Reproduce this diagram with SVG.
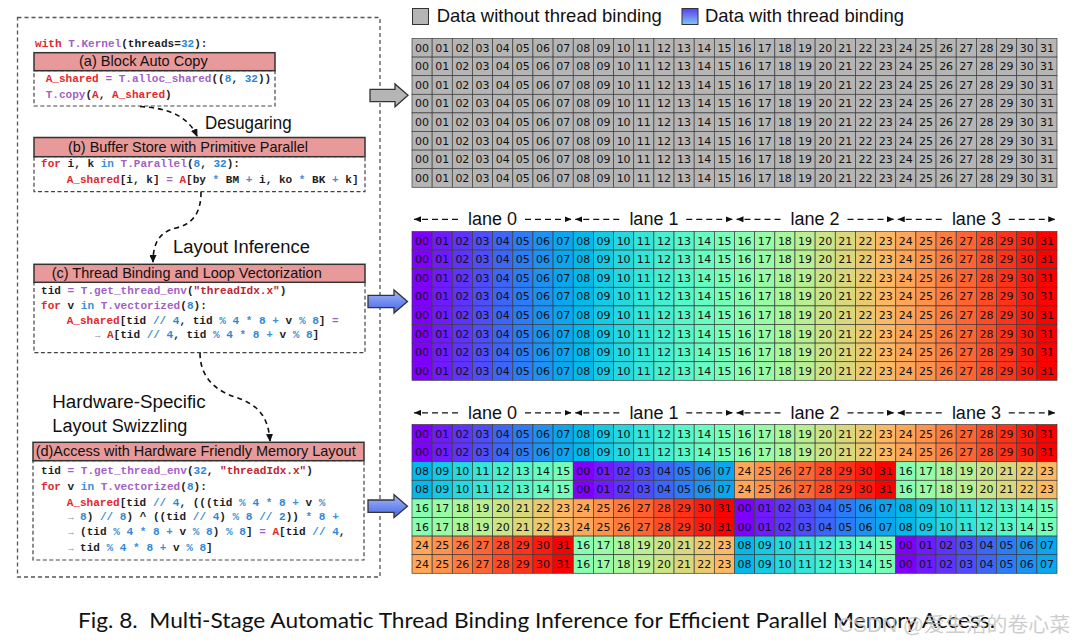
<svg xmlns="http://www.w3.org/2000/svg" width="1075" height="642" viewBox="0 0 1075 642">
<style>
.ct{font-family:"DejaVu Sans",sans-serif;font-size:11px;text-anchor:middle;fill:#111}
.cr rect{stroke:#3c3c3c;stroke-width:0.7}
.gg rect{fill:#b5b5b5;stroke:#3c3c3c;stroke-width:0.7}
.code{font-family:"Liberation Mono","DejaVu Sans Mono",monospace;font-size:11.05px;font-weight:bold;fill:#1e1e1e}
.k{fill:#e3262b}
.a{fill:#e3262b}
.f{fill:#a35fc4}
.e{fill:#a35fc4}
.n{fill:#2e86d6}
.o{fill:#3d8fd6}
.s{fill:#c0242e}
.ar{fill:#8a8a8a;font-weight:normal;font-size:9px}
.hdr{fill:#e8999a;stroke:#333;stroke-width:1.5}
.dbox{fill:none;stroke:#444;stroke-width:1.2;stroke-dasharray:4 2.5}
.ht{font-family:"Liberation Sans",Arial,sans-serif;font-size:14.5px;fill:#111}
.lbl{font-family:"Liberation Sans",Arial,sans-serif;font-size:18px;fill:#111}
.lane{font-family:"Liberation Sans",Arial,sans-serif;font-size:18px;fill:#111;text-anchor:middle}
.ll{stroke:#111;stroke-width:1.2;stroke-dasharray:6 4;fill:none}
.conn{fill:none;stroke:#111;stroke-width:1.6;stroke-dasharray:5 4}
.blk{stroke:#333;stroke-width:1.3}
</style>
<defs>
<marker id="la" viewBox="0 0 7 6" refX="7" refY="3" markerWidth="7" markerHeight="6" markerUnits="userSpaceOnUse" orient="auto"><path d="M0,0 L7,3 L0,6 z" fill="#111"/></marker>
<marker id="ca" viewBox="0 0 8 7" refX="7" refY="3.5" markerWidth="8" markerHeight="7" markerUnits="userSpaceOnUse" orient="auto"><path d="M0,0 L8,3.5 L0,7 z" fill="#111"/></marker>
<linearGradient id="blueg" x1="0" y1="0" x2="0" y2="1"><stop offset="0" stop-color="#a4b8fa"/><stop offset="1" stop-color="#4464e4"/></linearGradient>
<linearGradient id="legg" x1="0" y1="0" x2="0" y2="1"><stop offset="0" stop-color="#5a3cf2"/><stop offset="1" stop-color="#7cc8f2"/></linearGradient>
<g id="t0" class="ct"><text x="10.08" y="13.2">00</text><text x="30.23" y="13.2">01</text><text x="50.39" y="13.2">02</text><text x="70.55" y="13.2">03</text><text x="90.7" y="13.2">04</text><text x="110.86" y="13.2">05</text><text x="131.02" y="13.2">06</text><text x="151.17" y="13.2">07</text></g>
<g id="t1" class="ct"><text x="10.08" y="13.2">08</text><text x="30.23" y="13.2">09</text><text x="50.39" y="13.2">10</text><text x="70.55" y="13.2">11</text><text x="90.7" y="13.2">12</text><text x="110.86" y="13.2">13</text><text x="131.02" y="13.2">14</text><text x="151.17" y="13.2">15</text></g>
<g id="t2" class="ct"><text x="10.08" y="13.2">16</text><text x="30.23" y="13.2">17</text><text x="50.39" y="13.2">18</text><text x="70.55" y="13.2">19</text><text x="90.7" y="13.2">20</text><text x="110.86" y="13.2">21</text><text x="131.02" y="13.2">22</text><text x="151.17" y="13.2">23</text></g>
<g id="t3" class="ct"><text x="10.08" y="13.2">24</text><text x="30.23" y="13.2">25</text><text x="50.39" y="13.2">26</text><text x="70.55" y="13.2">27</text><text x="90.7" y="13.2">28</text><text x="110.86" y="13.2">29</text><text x="131.02" y="13.2">30</text><text x="151.17" y="13.2">31</text></g>
<g id="gg" class="gg"><rect x="0" width="20.16" height="18.6"/><rect x="20.16" width="20.16" height="18.6"/><rect x="40.31" width="20.16" height="18.6"/><rect x="60.47" width="20.16" height="18.6"/><rect x="80.63" width="20.16" height="18.6"/><rect x="100.78" width="20.16" height="18.6"/><rect x="120.94" width="20.16" height="18.6"/><rect x="141.09" width="20.16" height="18.6"/></g>
<g id="c0" class="cr"><rect x="0" width="20.16" height="18.6" fill="#8000ff"/><rect x="20.16" width="20.16" height="18.6" fill="#6f1aff"/><rect x="40.31" width="20.16" height="18.6" fill="#5f33fe"/><rect x="60.47" width="20.16" height="18.6" fill="#4e4cfc"/><rect x="80.63" width="20.16" height="18.6" fill="#3e65fa"/><rect x="100.78" width="20.16" height="18.6" fill="#2d7cf7"/><rect x="120.94" width="20.16" height="18.6" fill="#1d92f3"/><rect x="141.09" width="20.16" height="18.6" fill="#0ca6ef"/></g>
<g id="c1" class="cr"><rect x="0" width="20.16" height="18.6" fill="#04b9ea"/><rect x="20.16" width="20.16" height="18.6" fill="#15cae5"/><rect x="40.31" width="20.16" height="18.6" fill="#25d8df"/><rect x="60.47" width="20.16" height="18.6" fill="#35e5d8"/><rect x="80.63" width="20.16" height="18.6" fill="#46efd1"/><rect x="100.78" width="20.16" height="18.6" fill="#56f7ca"/><rect x="120.94" width="20.16" height="18.6" fill="#67fcc1"/><rect x="141.09" width="20.16" height="18.6" fill="#77ffb9"/></g>
<g id="c2" class="cr"><rect x="0" width="20.16" height="18.6" fill="#88ffb0"/><rect x="20.16" width="20.16" height="18.6" fill="#98fca6"/><rect x="40.31" width="20.16" height="18.6" fill="#a9f79c"/><rect x="60.47" width="20.16" height="18.6" fill="#b9ef92"/><rect x="80.63" width="20.16" height="18.6" fill="#cae587"/><rect x="100.78" width="20.16" height="18.6" fill="#dad87c"/><rect x="120.94" width="20.16" height="18.6" fill="#eaca70"/><rect x="141.09" width="20.16" height="18.6" fill="#fbb965"/></g>
<g id="c3" class="cr"><rect x="0" width="20.16" height="18.6" fill="#ffa659"/><rect x="20.16" width="20.16" height="18.6" fill="#ff924c"/><rect x="40.31" width="20.16" height="18.6" fill="#ff7c40"/><rect x="60.47" width="20.16" height="18.6" fill="#ff6533"/><rect x="80.63" width="20.16" height="18.6" fill="#ff4c27"/><rect x="100.78" width="20.16" height="18.6" fill="#ff331a"/><rect x="120.94" width="20.16" height="18.6" fill="#ff1a0d"/><rect x="141.09" width="20.16" height="18.6" fill="#ff0000"/></g>
<g id="rG"><use href="#gg"/><use href="#gg" x="161.25"/><use href="#gg" x="322.5"/><use href="#gg" x="483.75"/><use href="#t0"/><use href="#t1" x="161.25"/><use href="#t2" x="322.5"/><use href="#t3" x="483.75"/></g>
<g id="r0"><use href="#c0"/><use href="#c1" x="161.25"/><use href="#c2" x="322.5"/><use href="#c3" x="483.75"/><use href="#t0"/><use href="#t1" x="161.25"/><use href="#t2" x="322.5"/><use href="#t3" x="483.75"/></g>
<g id="r1"><use href="#c1"/><use href="#c0" x="161.25"/><use href="#c3" x="322.5"/><use href="#c2" x="483.75"/><use href="#t1"/><use href="#t0" x="161.25"/><use href="#t3" x="322.5"/><use href="#t2" x="483.75"/></g>
<g id="r2"><use href="#c2"/><use href="#c3" x="161.25"/><use href="#c0" x="322.5"/><use href="#c1" x="483.75"/><use href="#t2"/><use href="#t3" x="161.25"/><use href="#t0" x="322.5"/><use href="#t1" x="483.75"/></g>
<g id="r3"><use href="#c3"/><use href="#c2" x="161.25"/><use href="#c1" x="322.5"/><use href="#c0" x="483.75"/><use href="#t3"/><use href="#t2" x="161.25"/><use href="#t1" x="322.5"/><use href="#t0" x="483.75"/></g>
<g id="laneHdr">
<line class="ll" x1="46" y1="0" x2="2" y2="0" marker-end="url(#la)"/><line class="ll" x1="113" y1="0" x2="159.5" y2="0" marker-end="url(#la)"/>
</g>
</defs>
<rect width="1075" height="642" fill="#fff"/>

<!-- left panel frame -->
<rect id="panel" x="17.5" y="17.5" width="362.5" height="559.5" fill="none" stroke="#555" stroke-width="1.3" stroke-dasharray="4 3"/>

<text class="code" x="35" y="46.7" xml:space="preserve"><tspan class="k">with</tspan> <tspan class="f">T.Kernel</tspan>(threads=<tspan class="n">32</tspan>):</text>

<g id="node-a">
<rect class="dbox" x="34" y="70.7" width="241" height="35.3"/>
<rect class="hdr" x="34" y="52.7" width="241" height="18"/>
<text class="ht" x="79" y="66" textLength="128.7" lengthAdjust="spacingAndGlyphs">(a) Block Auto Copy</text>
<text class="code" x="45.7" y="82" xml:space="preserve"><tspan class="a">A_shared</tspan> <tspan class="e">=</tspan> <tspan class="f">T.alloc_shared</tspan>((<tspan class="n">8</tspan>, <tspan class="n">32</tspan>))</text>
<text class="code" x="45.7" y="97.7" xml:space="preserve"><tspan class="f">T.copy</tspan>(<tspan class="a">A</tspan>, <tspan class="a">A_shared</tspan>)</text>
</g>

<g id="node-b">
<rect class="dbox" x="34" y="156.7" width="331" height="35"/>
<rect class="hdr" x="34" y="137.5" width="331" height="19.2"/>
<text class="ht" x="68" y="151.5" textLength="240" lengthAdjust="spacingAndGlyphs">(b) Buffer Store with Primitive Parallel</text>
<text class="code" x="41" y="167" xml:space="preserve"><tspan class="k">for</tspan> i, k <tspan class="o">in</tspan> <tspan class="f">T.Parallel</tspan>(<tspan class="n">8</tspan>, <tspan class="n">32</tspan>):</text>
<text class="code" x="66.7" y="182.7" xml:space="preserve"><tspan class="a">A_shared</tspan>[i, k] <tspan class="e">=</tspan> <tspan class="a">A</tspan>[by <tspan class="o">*</tspan> BM <tspan class="o">+</tspan> i, ko <tspan class="o">*</tspan> BK <tspan class="o">+</tspan> k]</text>
</g>

<g id="node-c">
<rect class="dbox" x="34" y="282.3" width="331" height="70.4"/>
<rect class="hdr" x="34" y="264.3" width="331" height="18"/>
<text class="ht" x="51.7" y="278" textLength="270" lengthAdjust="spacingAndGlyphs">(c) Thread Binding and Loop Vectorization</text>
<text class="code" x="41" y="294.3" xml:space="preserve">tid <tspan class="e">=</tspan> <tspan class="f">T.get_thread_env</tspan>(<tspan class="s">"threadIdx.x"</tspan>)</text>
<text class="code" x="41" y="309.3" xml:space="preserve"><tspan class="k">for</tspan> v <tspan class="o">in</tspan> <tspan class="f">T.vectorized</tspan>(<tspan class="n">8</tspan>):</text>
<text class="code" x="66.7" y="324.3" xml:space="preserve"><tspan class="a">A_shared</tspan>[tid <tspan class="o">//</tspan> <tspan class="n">4</tspan>, tid <tspan class="o">%</tspan> <tspan class="n">4</tspan> <tspan class="o">*</tspan> <tspan class="n">8</tspan> <tspan class="o">+</tspan> v <tspan class="o">%</tspan> <tspan class="n">8</tspan>] <tspan class="e">=</tspan></text>
<text class="code ar" x="95" y="338.3">→</text>
<text class="code" x="106.9" y="338.3" xml:space="preserve"><tspan class="a">A</tspan>[tid <tspan class="o">//</tspan> <tspan class="n">4</tspan>, tid <tspan class="o">%</tspan> <tspan class="n">4</tspan> <tspan class="o">*</tspan> <tspan class="n">8</tspan> <tspan class="o">+</tspan> v <tspan class="o">%</tspan> <tspan class="n">8</tspan>]</text>
</g>

<g id="node-d">
<rect class="dbox" x="33" y="460.7" width="331" height="99.3"/>
<rect class="hdr" x="33" y="442.3" width="331" height="18.4"/>
<text class="ht" x="35.7" y="456" textLength="320" lengthAdjust="spacingAndGlyphs">(d)Access with Hardware Friendly Memory Layout</text>
<text class="code" x="41" y="474.3" xml:space="preserve">tid <tspan class="e">=</tspan> <tspan class="f">T.get_thread_env</tspan>(<tspan class="n">32</tspan>, <tspan class="s">"threadIdx.x"</tspan>)</text>
<text class="code" x="41" y="490" xml:space="preserve"><tspan class="k">for</tspan> v <tspan class="o">in</tspan> <tspan class="f">T.vectorized</tspan>(<tspan class="n">8</tspan>):</text>
<text class="code" x="66.7" y="505.7" xml:space="preserve"><tspan class="a">A_shared</tspan>[tid <tspan class="o">//</tspan> <tspan class="n">4</tspan>, (((tid <tspan class="o">%</tspan> <tspan class="n">4</tspan> <tspan class="o">*</tspan> <tspan class="n">8</tspan> <tspan class="o">+</tspan> v <tspan class="o">%</tspan></text>
<text class="code ar" x="68.3" y="520">→</text>
<text class="code" x="80" y="520" xml:space="preserve"><tspan class="n">8</tspan>) <tspan class="o">//</tspan> <tspan class="n">8</tspan>) ^ ((tid <tspan class="o">//</tspan> <tspan class="n">4</tspan>) <tspan class="o">%</tspan> <tspan class="n">8</tspan> <tspan class="o">//</tspan> <tspan class="n">2</tspan>)) <tspan class="o">*</tspan> <tspan class="n">8</tspan> <tspan class="o">+</tspan></text>
<text class="code ar" x="68.3" y="535">→</text>
<text class="code" x="80" y="535" xml:space="preserve">(tid <tspan class="o">%</tspan> <tspan class="n">4</tspan> <tspan class="o">*</tspan> <tspan class="n">8</tspan> <tspan class="o">+</tspan> v <tspan class="o">%</tspan> <tspan class="n">8</tspan>) <tspan class="o">%</tspan> <tspan class="n">8</tspan>] <tspan class="e">=</tspan> <tspan class="a">A</tspan>[tid <tspan class="o">//</tspan> <tspan class="n">4</tspan>,</text>
<text class="code ar" x="68.3" y="550.7">→</text>
<text class="code" x="80" y="550.7" xml:space="preserve">tid <tspan class="o">%</tspan> <tspan class="n">4</tspan> <tspan class="o">*</tspan> <tspan class="n">8</tspan> <tspan class="o">+</tspan> v <tspan class="o">%</tspan> <tspan class="n">8</tspan>]</text>
</g>

<g id="connectors">
<path class="conn" d="M140,106.5 C168,108 188,116 197,136" marker-end="url(#ca)"/>
<path class="conn" d="M201,192 C201,214 192,224 176,228 C160,232 153,242 153,262" marker-end="url(#ca)"/>
<path class="conn" d="M200,353 C200,376 214,390 235,397 C256,404 268,414 270,441" marker-end="url(#ca)"/>
<polygon class="blk" fill="#b5b5b5" points="370,89.3 395,89.3 395,84 408,95.3 395,106.7 395,101.7 370,101.7"/>
<polygon class="blk" fill="url(#blueg)" points="368,295.3 394,295.3 394,290 407.5,301.5 394,313 394,307.7 368,307.7"/>
<polygon class="blk" fill="url(#blueg)" points="368,500 394,500 394,494.7 407.5,506.2 394,517.7 394,512.4 368,512.4"/>
</g>

<g id="edge-labels">
<text class="lbl" x="205" y="129" textLength="86.7" lengthAdjust="spacingAndGlyphs">Desugaring</text>
<text class="lbl" x="173" y="253" textLength="137" lengthAdjust="spacingAndGlyphs">Layout Inference</text>
<text class="lbl" x="52.3" y="408.3" textLength="153.4" lengthAdjust="spacingAndGlyphs">Hardware-Specific</text>
<text class="lbl" x="52.3" y="431.7" textLength="135" lengthAdjust="spacingAndGlyphs">Layout Swizzling</text>
</g>

<g id="legend">
<rect x="412.5" y="8.5" width="16" height="16" fill="#b5b5b5" stroke="#333" stroke-width="1"/>
<text x="436.7" y="21.5" font-family="Liberation Sans, Arial, sans-serif" font-size="18.5" fill="#111" textLength="225" lengthAdjust="spacingAndGlyphs">Data without thread binding</text>
<rect x="682" y="8.5" width="16" height="16" fill="url(#legg)" stroke="#333" stroke-width="1"/>
<text x="705" y="21.5" font-family="Liberation Sans, Arial, sans-serif" font-size="18.5" fill="#111" textLength="199" lengthAdjust="spacingAndGlyphs">Data with thread binding</text>
</g>

<g id="grid-plain" transform="translate(412,38.5)">
<use href="#rG"/><use href="#rG" y="18.6"/><use href="#rG" y="37.2"/><use href="#rG" y="55.8"/><use href="#rG" y="74.4"/><use href="#rG" y="93"/><use href="#rG" y="111.6"/><use href="#rG" y="130.2"/>
</g>

<g id="lanes-mid" transform="translate(412,219.3)">
<use href="#laneHdr"/><use href="#laneHdr" x="161.25"/><use href="#laneHdr" x="322.5"/><use href="#laneHdr" x="483.75"/>
<text class="lane" x="80.6" y="6">lane 0</text><text class="lane" x="241.9" y="6">lane 1</text><text class="lane" x="403.1" y="6">lane 2</text><text class="lane" x="564.4" y="6">lane 3</text>
</g>

<g id="grid-bound" transform="translate(412,231.5)">
<use href="#r0"/><use href="#r0" y="18.6"/><use href="#r0" y="37.2"/><use href="#r0" y="55.8"/><use href="#r0" y="74.4"/><use href="#r0" y="93"/><use href="#r0" y="111.6"/><use href="#r0" y="130.2"/>
</g>

<g id="lanes-bot" transform="translate(412,412.8)">
<use href="#laneHdr"/><use href="#laneHdr" x="161.25"/><use href="#laneHdr" x="322.5"/><use href="#laneHdr" x="483.75"/>
<text class="lane" x="80.6" y="6">lane 0</text><text class="lane" x="241.9" y="6">lane 1</text><text class="lane" x="403.1" y="6">lane 2</text><text class="lane" x="564.4" y="6">lane 3</text>
</g>

<g id="grid-swizzled" transform="translate(412,424.5)">
<use href="#r0"/><use href="#r0" y="18.6"/><use href="#r1" y="37.2"/><use href="#r1" y="55.8"/><use href="#r2" y="74.4"/><use href="#r2" y="93"/><use href="#r3" y="111.6"/><use href="#r3" y="130.2"/>
</g>

<text id="caption" x="78" y="628" font-family="Lato, 'Noto Sans', sans-serif" font-size="20.5" fill="#111" textLength="917" lengthAdjust="spacingAndGlyphs" xml:space="preserve">Fig. 8.  Multi-Stage Automatic Thread Binding Inference for Efficient Parallel Memory Access.</text>
<text id="watermark" x="838" y="632" font-family="'Liberation Sans','Noto Sans CJK SC',sans-serif" font-size="20" fill="#c4c4c4" fill-opacity="0.85" textLength="232" lengthAdjust="spacingAndGlyphs">CSDN @爱生活的卷心菜</text>
</svg>
